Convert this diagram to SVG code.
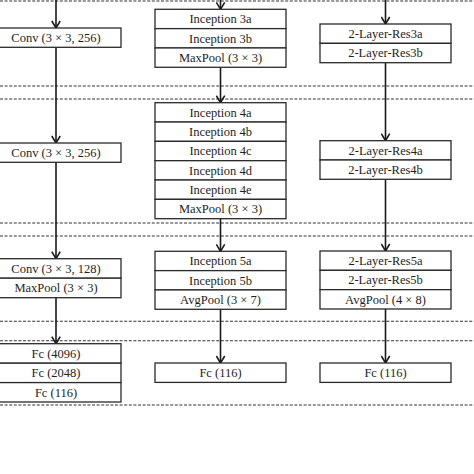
<svg xmlns="http://www.w3.org/2000/svg" width="474" height="474" viewBox="0 0 474 474">
<style>
.bg{fill:#ffffff}
.box rect{fill:#ffffff;stroke:#2a2a2a;stroke-width:1.3}
.box text{font-family:"Liberation Serif","Times New Roman",serif;font-size:12.5px;fill:#1e1e1e;text-anchor:middle;dominant-baseline:central}
.dash{stroke:#333333;stroke-width:1.1;stroke-dasharray:3 1.6;fill:none}
.arr{stroke:#1a1a1a;stroke-width:1.6;fill:none;marker-end:url(#ah)}
</style>
<defs>
<marker id="ah" markerUnits="userSpaceOnUse" markerWidth="9" markerHeight="10" refX="8" refY="5" orient="auto" viewBox="0 0 9 10">
<path d="M1,0.8 L8,5 L1,9.2" fill="none" stroke="#1a1a1a" stroke-width="1.6"/>
</marker>
</defs>
<rect class="bg" x="0" y="0" width="474" height="474"/>
<g id="separators">
<line class="dash" x1="0" y1="1" x2="474" y2="1"/>
<line class="dash" x1="0" y1="86" x2="474" y2="86"/>
<line class="dash" x1="0" y1="99" x2="474" y2="99"/>
<line class="dash" x1="0" y1="223" x2="474" y2="223"/>
<line class="dash" x1="0" y1="236" x2="474" y2="236"/>
<line class="dash" x1="0" y1="321.3" x2="474" y2="321.3"/>
<line class="dash" x1="0" y1="340.7" x2="474" y2="340.7"/>
<line class="dash" x1="0" y1="405" x2="474" y2="405"/>
</g>
<g id="connectors">
<line class="arr" x1="56" y1="0" x2="56" y2="28"/>
<line class="arr" x1="56" y1="47.3" x2="56" y2="143"/>
<line class="arr" x1="56" y1="162.3" x2="56" y2="258.7"/>
<line class="arr" x1="56" y1="297.7" x2="56" y2="343.7"/>
<line class="arr" x1="220.5" y1="0" x2="220.5" y2="9.3"/>
<line class="arr" x1="220.5" y1="67.3" x2="220.5" y2="102.7"/>
<line class="arr" x1="220.5" y1="218.7" x2="220.5" y2="251.3"/>
<line class="arr" x1="220.5" y1="309.3" x2="220.5" y2="363"/>
<line class="arr" x1="385.5" y1="0" x2="385.5" y2="24"/>
<line class="arr" x1="385.5" y1="62.7" x2="385.5" y2="140.7"/>
<line class="arr" x1="385.5" y1="179.3" x2="385.5" y2="251"/>
<line class="arr" x1="385.5" y1="309" x2="385.5" y2="363"/>
</g>
<g id="conv1" class="box">
<rect x="-9" y="28" width="130" height="19.3"/>
<text x="56" y="38">Conv (3 × 3, 256)</text>
</g>
<g id="conv2" class="box">
<rect x="-9" y="143" width="130" height="19.3"/>
<text x="56" y="153">Conv (3 × 3, 256)</text>
</g>
<g id="conv3" class="box">
<rect x="-9" y="258.7" width="130" height="19.5"/>
<rect x="-9" y="278.2" width="130" height="19.5"/>
<text x="56" y="268.8">Conv (3 × 3, 128)</text>
<text x="56" y="288.3">MaxPool (3 × 3)</text>
</g>
<g id="fc-left" class="box">
<rect x="-9" y="343.7" width="130" height="19.5"/>
<rect x="-9" y="363.2" width="130" height="19.4"/>
<rect x="-9" y="382.6" width="130" height="19.4"/>
<text x="56" y="353.8">Fc (4096)</text>
<text x="56" y="373.3">Fc (2048)</text>
<text x="56" y="392.7">Fc (116)</text>
</g>
<g id="inception3" class="box">
<rect x="155" y="9.3" width="131" height="19.33"/>
<rect x="155" y="28.63" width="131" height="19.33"/>
<rect x="155" y="47.96" width="131" height="19.33"/>
<text x="220.5" y="19.3">Inception 3a</text>
<text x="220.5" y="38.6">Inception 3b</text>
<text x="220.5" y="58">MaxPool (3 × 3)</text>
</g>
<g id="inception4" class="box">
<rect x="155" y="102.7" width="131" height="19.33"/>
<rect x="155" y="122.03" width="131" height="19.33"/>
<rect x="155" y="141.36" width="131" height="19.33"/>
<rect x="155" y="160.69" width="131" height="19.33"/>
<rect x="155" y="180.02" width="131" height="19.33"/>
<rect x="155" y="199.35" width="131" height="19.33"/>
<text x="220.5" y="112.7">Inception 4a</text>
<text x="220.5" y="132">Inception 4b</text>
<text x="220.5" y="151.3">Inception 4c</text>
<text x="220.5" y="170.7">Inception 4d</text>
<text x="220.5" y="190">Inception 4e</text>
<text x="220.5" y="209.3">MaxPool (3 × 3)</text>
</g>
<g id="inception5" class="box">
<rect x="155" y="251.3" width="131" height="19.33"/>
<rect x="155" y="270.63" width="131" height="19.33"/>
<rect x="155" y="289.96" width="131" height="19.33"/>
<text x="220.5" y="261.3">Inception 5a</text>
<text x="220.5" y="280.6">Inception 5b</text>
<text x="220.5" y="300">AvgPool (3 × 7)</text>
</g>
<g id="fc-mid" class="box">
<rect x="155" y="363" width="131" height="19.4"/>
<text x="220.5" y="373">Fc (116)</text>
</g>
<g id="res3" class="box">
<rect x="320" y="24" width="131" height="19.35"/>
<rect x="320" y="43.35" width="131" height="19.35"/>
<text x="385.5" y="34">2-Layer-Res3a</text>
<text x="385.5" y="53.3">2-Layer-Res3b</text>
</g>
<g id="res4" class="box">
<rect x="320" y="140.7" width="131" height="19.3"/>
<rect x="320" y="160" width="131" height="19.3"/>
<text x="385.5" y="150.6">2-Layer-Res4a</text>
<text x="385.5" y="169.9">2-Layer-Res4b</text>
</g>
<g id="res5" class="box">
<rect x="320" y="251" width="131" height="19.33"/>
<rect x="320" y="270.33" width="131" height="19.33"/>
<rect x="320" y="289.66" width="131" height="19.33"/>
<text x="385.5" y="261">2-Layer-Res5a</text>
<text x="385.5" y="280.3">2-Layer-Res5b</text>
<text x="385.5" y="299.6">AvgPool (4 × 8)</text>
</g>
<g id="fc-right" class="box">
<rect x="320" y="363" width="131" height="19.4"/>
<text x="385.5" y="373">Fc (116)</text>
</g>
</svg>
